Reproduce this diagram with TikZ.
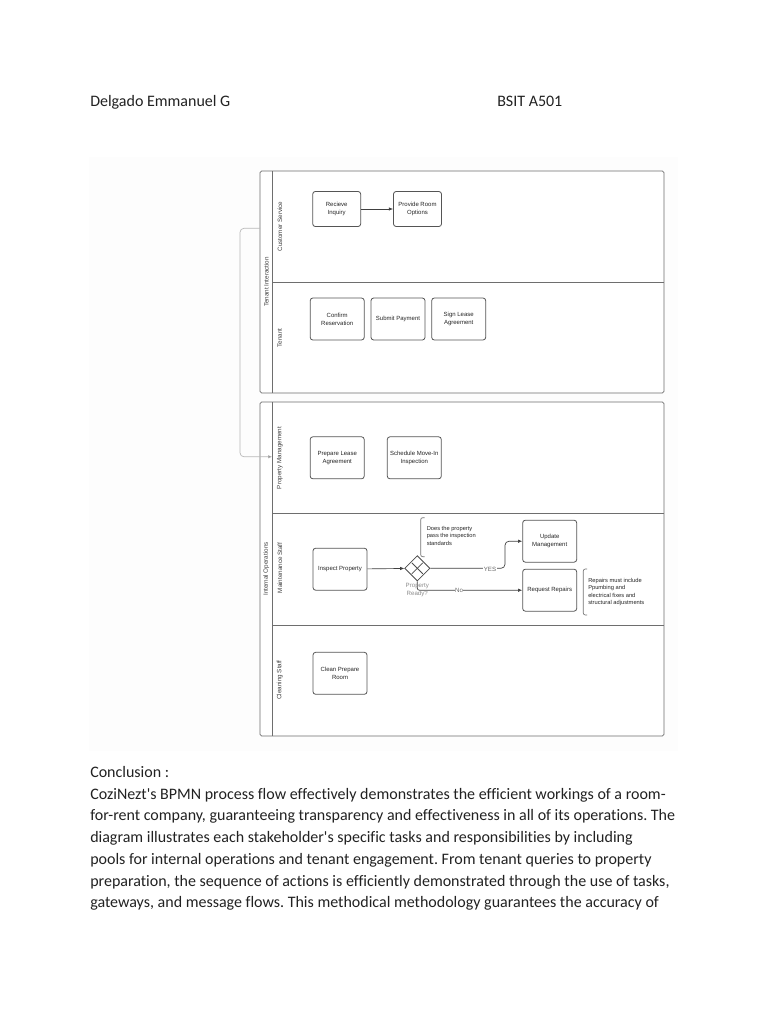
\documentclass[tikz,border=0pt]{standalone}
\usepackage{fontspec}
\setmainfont{Carlito}[Ligatures={NoCommon}]
\newfontfamily\diagfont{Liberation Sans}
\usetikzlibrary{arrows.meta,shapes.geometric}
\definecolor{txt}{HTML}{222222}
\definecolor{poolc}{HTML}{6E6E6E}
\definecolor{taskc}{HTML}{555555}
\definecolor{bgc}{HTML}{FDFDFD}
\frenchspacing
\begin{document}
\begin{tikzpicture}[x=0.75pt,y=-0.75pt,
  doc/.style={anchor=base west,inner sep=0pt,text=txt,font=\fontsize{12}{14}\selectfont},
  pool/.style={draw=poolc,line width=0.6pt,rounded corners=1.2pt},
  laneline/.style={draw=poolc,line width=0.6pt},
  task/.style={draw=taskc,line width=0.6pt,rounded corners=2pt,fill=white,align=center,inner sep=0.5pt,
    font=\diagfont\fontsize{4.5}{5.8}\selectfont,text=black!85,minimum width=40.5pt,minimum height=31.5pt},
  smalltask/.style={task,minimum width=36pt,minimum height=26.3pt},
  lanelabel/.style={rotate=90,inner sep=0pt,font=\diagfont\fontsize{4.7}{6}\selectfont,text=black!75},
  flow/.style={draw=black!75,line width=0.5pt,-{Latex[length=3.2pt,width=2.6pt]}},
  msg/.style={draw=black!28,line width=0.5pt,rounded corners=3pt,-{Latex[length=3.2pt,width=2.6pt,fill=black!80]}},
  note/.style={anchor=north west,align=left,inner sep=0pt,font=\diagfont\fontsize{4.3}{5.3}\selectfont,text=black!85},
  bracket/.style={draw=black!55,line width=0.5pt,rounded corners=1.5pt},
  flowlabel/.style={inner sep=0.4pt,fill=white,font=\diagfont\fontsize{4.6}{5.5}\selectfont,text=black!60}]
\useasboundingbox (0,0) rectangle (768,1024);
\fill[white] (0,0) rectangle (768,1024);
% header
\node[doc] (name) at (90,107) {Delgado Emmanuel G};
\node[doc] (sect) at (497,107) {BSIT A501};
% diagram background
\fill[bgc] (89,157) rectangle (678,751);
% pools
\node[pool,minimum width=303pt,minimum height=166.5pt,inner sep=0pt,fill=white] (poolA) at (462,282) {};
\draw[laneline] (272.5,171) -- (272.5,393);
\draw[laneline] (272.5,282) -- (664,282);
\node[pool,minimum width=303pt,minimum height=250.5pt,inner sep=0pt,fill=white] (poolB) at (462,569) {};
\draw[laneline] (272.5,402) -- (272.5,736);
\draw[laneline] (272.5,513) -- (664,513);
\draw[laneline] (272.5,625) -- (664,625);
% pool and lane labels
\node[lanelabel] (lTI) at (266.3,282) {Tenant Interaction};
\node[lanelabel] (lCS) at (279.8,226.5) {Customer Service};
\node[lanelabel] (lTe) at (279.8,338) {Tenant};
\node[lanelabel] (lIO) at (266.3,569) {Internal Operations};
\node[lanelabel] (lPM) at (279.8,458) {Property Management};
\node[lanelabel] (lMS) at (279.8,568) {Maintenance Staff};
\node[lanelabel] (lCl) at (279.8,680) {Cleaning Staff};
% tasks
\node[smalltask] (recv) at (336.7,209) {Recieve\\Inquiry};
\node[smalltask] (prov) at (417.5,209) {Provide Room\\Options};
\node[task] (conf) at (337.2,319) {Confirm\\Reservation};
\node[task] (pay) at (398,319) {Submit Payment};
\node[task] (sign) at (458.7,319) {Sign Lease\\Agreement};
\node[task] (prep) at (337.2,457.8) {Prepare Lease\\Agreement};
\node[task] (sched) at (414.3,457.8) {Schedule Move-In\\Inspection};
\node[task] (insp) at (340,569.2) {Inspect Property};
\node[task] (upd) at (549.7,541.2) {Update\\Management};
\node[task] (req) at (549.7,590.2) {Request Repairs};
\node[task] (clean) at (340,673.3) {Clean Prepare\\Room};
% gateway
\node[diamond,draw=black!70,line width=0.6pt,fill=white,minimum width=19pt,minimum height=19pt,inner sep=0pt] (gw) at (417.3,568.3) {};
\draw[black!70,line width=0.6pt] (gw.center) +(-5.5,-5.5) -- +(5.5,5.5);
\draw[black!70,line width=0.6pt] (gw.center) +(-5.5,5.5) -- +(5.5,-5.5);
% flows
\draw[flow] (recv) -- (prov);
\draw[flow] (insp) -- (gw);
\draw[flow,rounded corners=3pt] (gw.east) -- (505,568.3) |- (upd.west);
\draw[flow,rounded corners=1.5pt] (gw.south) |- (req.west);
\node[flowlabel] (yes) at (490,569) {YES};
\node[flowlabel] (no) at (459,590.3) {No};
\node[align=center,inner sep=0pt,font=\diagfont\fontsize{4.6}{5.6}\selectfont,text=black!45] (gwl) at (417.3,590) {Property\\Ready?};
% message flow
\coordinate (mfS) at (260,228.3);
\coordinate (mfE) at (272.3,456.8);
\draw[msg] (mfS) -- (240,228.3) -- (240,456.8) -- (mfE);
% annotations
\draw[bracket] (424.5,517.7) -- (420.7,517.7) -- (420.7,556.7) -- (424.5,556.7);
\node[note] (n1) at (426.5,526.5) {Does the property\\pass the inspection\\standards};
\draw[bracket] (587,569) -- (583.3,569) -- (583.3,615) -- (587,615);
\node[note] (n2) at (588,578.5) {Repairs must include\\Ppumbing and\\electrical fixes and\\structural adjustments};
% conclusion
\node[doc] (c0) at (90,777.5) {Conclusion :};
\node[doc] (c1) at (90,799.2) {CoziNezt\textquotesingle s BPMN process flow effectively demonstrates the efficient workings of a room-};
\node[doc] (c2) at (90,820.9) {for-rent company, guaranteeing transparency and effectiveness in all of its operations. The};
\node[doc] (c3) at (90,842.6) {diagram illustrates each stakeholder\textquotesingle s specific tasks and responsibilities by including};
\node[doc] (c4) at (90,864.3) {pools for internal operations and tenant engagement. From tenant queries to property};
\node[doc] (c5) at (90,886) {preparation, the sequence of actions is efficiently demonstrated through the use of tasks,};
\node[doc] (c6) at (90,907.7) {gateways, and message flows. This methodical methodology guarantees the accuracy of};
\end{tikzpicture}
\end{document}
